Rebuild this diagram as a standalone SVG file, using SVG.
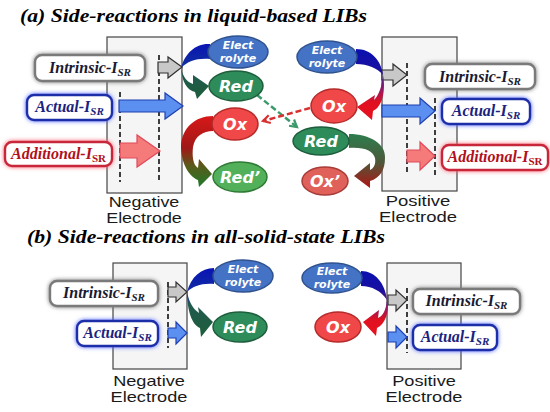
<svg xmlns="http://www.w3.org/2000/svg" width="550" height="412" viewBox="0 0 550 412">
<defs>
<style>
.title{font-family:"Liberation Serif","Times New Roman",serif;font-weight:bold;font-style:italic;font-size:19px;fill:#000}
.elab{font-family:"Liberation Sans",Arial,sans-serif;font-size:14px;fill:#1a1a1a;text-anchor:middle}
.electrode{fill:#f5f5f5;stroke:#444;stroke-width:1.2}
.dash{stroke:#111;stroke-width:1.6;stroke-dasharray:5 3;fill:none}
.lbl{font-family:"Liberation Serif","Times New Roman",serif;font-weight:bold;font-style:italic;font-size:16px;text-anchor:middle}
.sub{font-size:11px}
.box{fill:#fff;stroke-width:2.4}
.bg{stroke:#7a7a7a}
.bb{stroke:#1f2fa8}
.br{stroke:#c8283a}
.tg{fill:#1a1a30}
.tb{fill:#1a237e}
.tr{fill:#b01020}
.ag{fill:#c8c8c8;stroke:#303030;stroke-width:1.2}
.ab{fill:#5b8ff0;stroke:#1f40b0;stroke-width:1.2}
.ar{fill:#f57a7a;stroke:#e04a5a;stroke-width:1.2}
.etxt{font-family:"DejaVu Sans",Verdana,sans-serif;font-weight:bold;font-style:italic;fill:#fff;text-anchor:middle}
.sm{font-size:11px}
.lg{font-size:16px}
.el{fill:#4472c4;stroke:#2f528f;stroke-width:1.5}
.rd{fill:#2e8b5a;stroke:#1d5e3c;stroke-width:1.5}
.rd2{fill:#52b05a;stroke:#2f7a35;stroke-width:1.5}
.ox{fill:#f04848;stroke:#b52a2a;stroke-width:1.5}
.ox2{fill:#e0605a;stroke:#a83c38;stroke-width:1.5}
</style>
<filter id="gG" x="-20%" y="-50%" width="140%" height="200%"><feDropShadow dx="0" dy="0" stdDeviation="2" flood-color="#777"/></filter>
<filter id="gB" x="-20%" y="-50%" width="140%" height="200%"><feDropShadow dx="0" dy="0" stdDeviation="2" flood-color="#4a60ff"/></filter>
<filter id="gR" x="-20%" y="-50%" width="140%" height="200%"><feDropShadow dx="0" dy="0" stdDeviation="2" flood-color="#ff6070"/></filter>
<linearGradient id="gBG1" gradientUnits="userSpaceOnUse" x1="0" y1="44" x2="0" y2="99"><stop offset="0" stop-color="#0a14b4"/><stop offset="0.4" stop-color="#1030a0"/><stop offset="0.52" stop-color="#205a50"/><stop offset="1" stop-color="#1e5e3a"/></linearGradient>
<linearGradient id="gRG" gradientUnits="userSpaceOnUse" x1="0" y1="116" x2="0" y2="187"><stop offset="0" stop-color="#d81818"/><stop offset="0.45" stop-color="#a01818"/><stop offset="0.7" stop-color="#5a5a1a"/><stop offset="1" stop-color="#1e7a2a"/></linearGradient>
<linearGradient id="gBR1" gradientUnits="userSpaceOnUse" x1="0" y1="49" x2="0" y2="120"><stop offset="0" stop-color="#0a10b0"/><stop offset="0.3" stop-color="#1a10a0"/><stop offset="0.55" stop-color="#8a1a6a"/><stop offset="0.75" stop-color="#e01020"/><stop offset="1" stop-color="#e81020"/></linearGradient>
<linearGradient id="gGR" gradientUnits="userSpaceOnUse" x1="0" y1="134" x2="0" y2="188"><stop offset="0" stop-color="#2e7d4e"/><stop offset="0.5" stop-color="#4a5a3a"/><stop offset="1" stop-color="#b01515"/></linearGradient>
<linearGradient id="gBG2" gradientUnits="userSpaceOnUse" x1="0" y1="268" x2="0" y2="337"><stop offset="0" stop-color="#0a14b4"/><stop offset="0.4" stop-color="#1030a0"/><stop offset="0.52" stop-color="#205a50"/><stop offset="1" stop-color="#1e5e3a"/></linearGradient>
<linearGradient id="gBR2" gradientUnits="userSpaceOnUse" x1="0" y1="271" x2="0" y2="336"><stop offset="0" stop-color="#0a10b0"/><stop offset="0.3" stop-color="#1a10a0"/><stop offset="0.55" stop-color="#8a1a6a"/><stop offset="0.75" stop-color="#e01020"/><stop offset="1" stop-color="#e81020"/></linearGradient>
<marker id="mG" markerUnits="userSpaceOnUse" markerWidth="12" markerHeight="12" refX="8" refY="5" orient="auto"><path d="M1,1 L8,5 L1,9" fill="none" stroke="#3a9a6a" stroke-width="2.2"/></marker>
<marker id="mR" markerUnits="userSpaceOnUse" markerWidth="12" markerHeight="12" refX="8" refY="5" orient="auto"><path d="M1,1 L8,5 L1,9" fill="none" stroke="#d83030" stroke-width="2.2"/></marker>
</defs>
<rect width="550" height="412" fill="#fff"/>

<text class="title" x="20" y="22" textLength="347" lengthAdjust="spacingAndGlyphs">(a) Side-reactions in liquid-based LIBs</text>
<text class="title" x="27" y="243" textLength="358" lengthAdjust="spacingAndGlyphs">(b) Side-reactions in all-solid-state LIBs</text>

<g id="neg-electrode-a">
<rect class="electrode" x="107" y="37" width="75" height="156"/>
<line class="dash" x1="159" y1="55" x2="159" y2="182"/>
<line class="dash" x1="120" y1="92" x2="120" y2="182"/>
<text class="elab" transform="translate(144 0) scale(1.28 1)"><tspan x="0" y="207">Negative</tspan><tspan x="0" y="222.8">Electrode</tspan></text>
</g>
<g id="pos-electrode-a">
<rect class="electrode" x="382" y="37" width="75" height="154"/>
<line class="dash" x1="407" y1="63" x2="407" y2="175"/>
<line class="dash" x1="435" y1="98" x2="435" y2="178"/>
<text class="elab" transform="translate(418 0) scale(1.32 1)"><tspan x="0" y="206">Positive</tspan><tspan x="0" y="221.8">Electrode</tspan></text>
</g>
<g id="neg-electrode-b">
<rect class="electrode" x="113" y="263" width="74" height="106"/>
<line class="dash" x1="168" y1="282" x2="168" y2="348"/>
<text class="elab" transform="translate(149 0) scale(1.3 1)"><tspan x="0" y="386.5">Negative</tspan><tspan x="0" y="402.3">Electrode</tspan></text>
</g>
<g id="pos-electrode-b">
<rect class="electrode" x="387" y="263" width="74" height="106"/>
<line class="dash" x1="407" y1="288" x2="407" y2="353"/>
<text class="elab" transform="translate(424 0) scale(1.3 1)"><tspan x="0" y="386.5">Positive</tspan><tspan x="0" y="402.3">Electrode</tspan></text>
</g>

<g id="connectors">
<polygon class="ag" points="158,62 168,62 168,57 182,67 168,78 168,73 158,73"/>
<polygon class="ab" points="119,100 165,100 165,93 183,106 165,119 165,112 119,112"/>
<polygon class="ar" points="120,143 137,143 137,135 160,151 137,167 137,158 120,158"/>
<polygon class="ag" points="382,70 393,70 393,64 407,75 393,86 393,80 382,80"/>
<polygon class="ab" points="382,105 420,105 420,98 435,111 420,124 420,117 382,117"/>
<polygon class="ar" points="407,150 420,150 420,142 435,156 420,170 420,162 407,162"/>
<polygon class="ag" points="168,287 176,287 176,282 187,292 176,302 176,297 168,297"/>
<polygon class="ab" points="168,328 176,328 176,322 187,333 176,344 176,338 168,338"/>
<polygon class="ag" points="388,295 396,295 396,290 407,300 396,311 396,305 388,305"/>
<polygon class="ab" points="388,332 396,332 396,326 407,337 396,348 396,342 388,342"/>

<path fill="url(#gBG1)" d="M210,44 C196,43 185,53 181,68 C183,77 187,82 193,84 L193,75 L209,86 L197,99 L195,92 C187,90 182,82 181,68 C188,61 197,58 210,59 Z"/>
<path fill="url(#gRG)" d="M213,116 C195,116 182,128 181,146 C181,162 188,176 198,180 L199,187 L212,174 L199,159 L198,168 C193,165 192,156 193,147 C195,136 203,131 213,131 Z"/>
<path fill="url(#gBR1)" d="M356,49 C371,49 381,60 383,75 C382,86 379,95 374,100 L375,95 L357,107 L372,120 L373,111 C382,107 386,92 383,75 C377,68 368,64 356,64 Z"/>
<path fill="url(#gGR)" d="M349,134 C370,134 386,144 385,158 C385,170 380,178 370,181 L370,188 L354,176 L370,163 L370,170 C374,168 376,164 375,158 C373,151 365,147 349,148 Z"/>
<path fill="url(#gBG2)" d="M214,268 C201,268 191,277 187,292 C189,302 193,309 199,313 L198,307 L213,322 L201,337 L200,328 C192,325 187,310 187,292 C193,286 202,283 214,284 Z"/>
<path fill="url(#gBR2)" d="M361,271 C375,271 385,283 387,300 C386,310 383,316 378,318 L379,310 L363,322 L376,336 L377,328 C385,324 390,312 387,300 C381,291 372,286 361,286 Z"/>

<path d="M257,95 L297,127" stroke="#3a9a6a" stroke-width="2.5" stroke-dasharray="6 3" fill="none" marker-end="url(#mG)"/>
<path d="M310,108 L263,121" stroke="#d83030" stroke-width="2.5" stroke-dasharray="6 3" fill="none" marker-end="url(#mR)"/>
</g>

<g id="lbl-a-neg-intrinsic"><rect class="box bg" filter="url(#gG)" x="35" y="55" width="110" height="26" rx="7"/><text class="lbl tg" x="90" y="73">Intrinsic-I<tspan class="sub" dy="3">SR</tspan></text></g>
<g id="lbl-a-neg-actual"><rect class="box bb" filter="url(#gB)" x="27" y="95" width="85" height="25" rx="7"/><text class="lbl tb" x="69.5" y="112">Actual-I<tspan class="sub" dy="3">SR</tspan></text></g>
<g id="lbl-a-neg-additional"><rect class="box br" filter="url(#gR)" x="5" y="142" width="107" height="24" rx="7"/><text class="lbl tr" x="58.5" y="159">Additional-I<tspan class="sub" dy="3" font-style="normal">SR</tspan></text></g>
<g id="lbl-a-pos-intrinsic"><rect class="box bg" filter="url(#gG)" x="425" y="64" width="110" height="25" rx="7"/><text class="lbl tg" x="480" y="82">Intrinsic-I<tspan class="sub" dy="3">SR</tspan></text></g>
<g id="lbl-a-pos-actual"><rect class="box bb" filter="url(#gB)" x="442" y="99" width="88" height="25" rx="7"/><text class="lbl tb" x="486" y="116">Actual-I<tspan class="sub" dy="3">SR</tspan></text></g>
<g id="lbl-a-pos-additional"><rect class="box br" filter="url(#gR)" x="442" y="145" width="106" height="25" rx="7"/><text class="lbl tr" x="495" y="162">Additional-I<tspan class="sub" dy="3" font-style="normal">SR</tspan></text></g>
<g id="lbl-b-neg-intrinsic"><rect class="box bg" filter="url(#gG)" x="50" y="281" width="108" height="25" rx="7"/><text class="lbl tg" x="104" y="298">Intrinsic-I<tspan class="sub" dy="3">SR</tspan></text></g>
<g id="lbl-b-neg-actual"><rect class="box bb" filter="url(#gB)" x="77" y="321" width="81" height="25" rx="7"/><text class="lbl tb" x="117.5" y="338">Actual-I<tspan class="sub" dy="3">SR</tspan></text></g>
<g id="lbl-b-pos-intrinsic"><rect class="box bg" filter="url(#gG)" x="413" y="289" width="107" height="25" rx="7"/><text class="lbl tg" x="466.5" y="306">Intrinsic-I<tspan class="sub" dy="3">SR</tspan></text></g>
<g id="lbl-b-pos-actual"><rect class="box bb" filter="url(#gB)" x="413" y="325" width="84" height="25" rx="7"/><text class="lbl tb" x="455" y="342">Actual-I<tspan class="sub" dy="3">SR</tspan></text></g>

<g id="a-neg-electrolyte"><ellipse class="el" cx="238" cy="52" rx="30" ry="16"/><text class="etxt sm"><tspan x="238" y="49">Elect</tspan><tspan x="238" y="61.8">rolyte</tspan></text></g>
<g id="a-neg-red"><ellipse class="rd" cx="236" cy="86" rx="27" ry="15"/><text class="etxt lg" x="236" y="92">Red</text></g>
<g id="a-neg-ox"><ellipse class="ox" cx="235" cy="124" rx="23" ry="16"/><text class="etxt lg" x="235" y="130">Ox</text></g>
<g id="a-neg-red2"><ellipse class="rd2" cx="240" cy="177" rx="27" ry="15"/><text class="etxt lg" x="240" y="183">Red’</text></g>
<g id="a-pos-electrolyte"><ellipse class="el" cx="327" cy="57" rx="30" ry="16"/><text class="etxt sm"><tspan x="327" y="54">Elect</tspan><tspan x="327" y="66.8">rolyte</tspan></text></g>
<g id="a-pos-ox"><ellipse class="ox" cx="334" cy="106" rx="23" ry="17"/><text class="etxt lg" x="334" y="112">Ox</text></g>
<g id="a-pos-red"><ellipse class="rd" cx="321" cy="141" rx="28" ry="14"/><text class="etxt lg" x="321" y="147">Red</text></g>
<g id="a-pos-ox2"><ellipse class="ox2" cx="325" cy="181" rx="23" ry="14"/><text class="etxt lg" x="325" y="187">Ox’</text></g>
<g id="b-neg-electrolyte"><ellipse class="el" cx="243" cy="276" rx="30" ry="16"/><text class="etxt sm"><tspan x="243" y="273">Elect</tspan><tspan x="243" y="285.8">rolyte</tspan></text></g>
<g id="b-neg-red"><ellipse class="rd" cx="240" cy="327" rx="27" ry="15"/><text class="etxt lg" x="240" y="333">Red</text></g>
<g id="b-pos-electrolyte"><ellipse class="el" cx="332" cy="278" rx="30" ry="15"/><text class="etxt sm"><tspan x="332" y="275">Elect</tspan><tspan x="332" y="287.8">rolyte</tspan></text></g>
<g id="b-pos-ox"><ellipse class="ox" cx="338" cy="327" rx="23" ry="15"/><text class="etxt lg" x="338" y="333">Ox</text></g>
</svg>
